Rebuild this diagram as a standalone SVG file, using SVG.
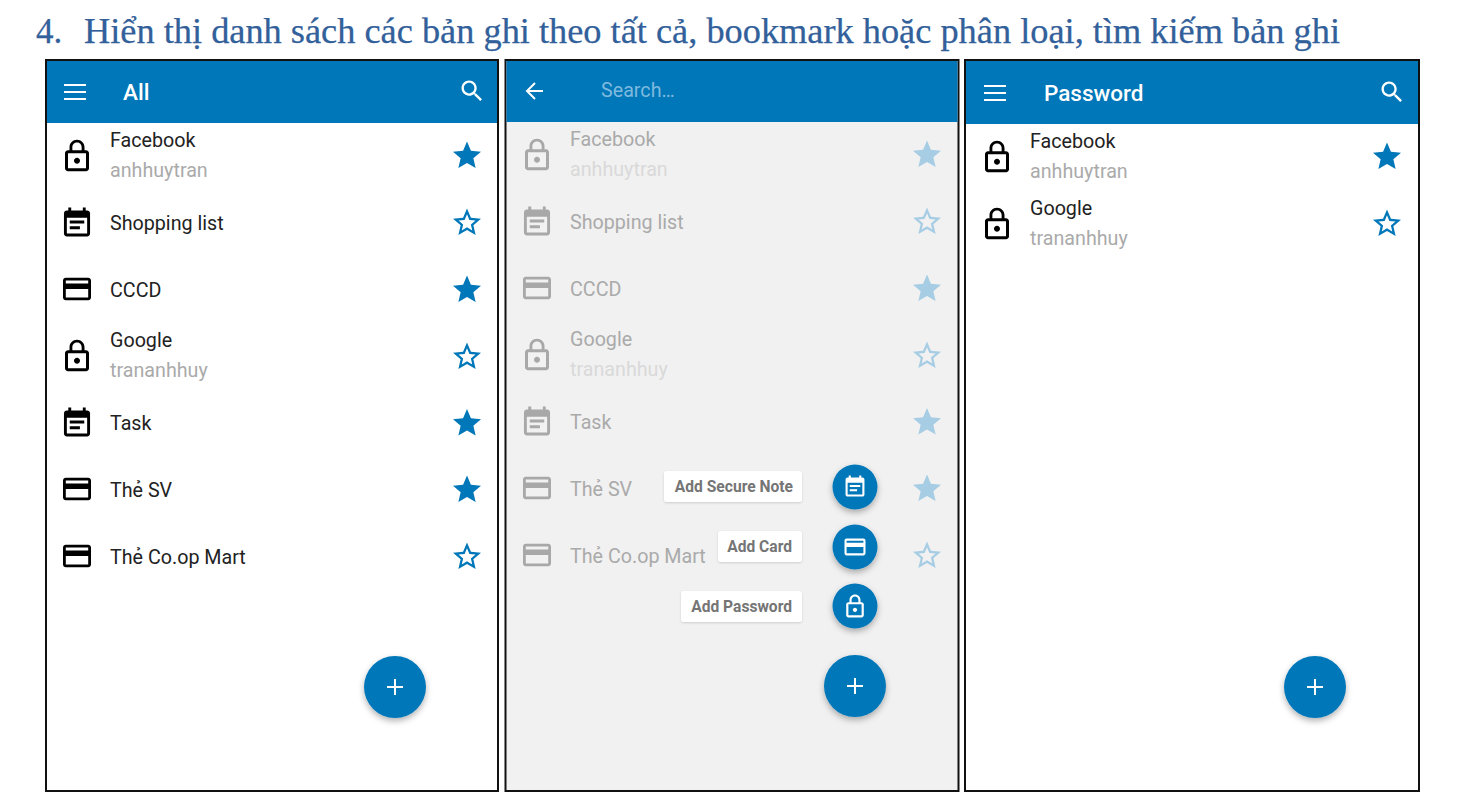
<svg xmlns="http://www.w3.org/2000/svg" width="1471" height="798" viewBox="0 0 1471 798">
<style>
text{font-family:Roboto,"Noto Sans",sans-serif}
.h{font-family:"Liberation Serif","Noto Serif",serif;font-size:35px;fill:#32609a;stroke:#32609a;stroke-width:.25}
.frame{stroke:#111;stroke-width:2}
.bar{fill:#0077b8}
.t{font-size:19.7px;fill:var(--t,#222)}
.s{font-size:19.7px;fill:var(--s,#aaa)}
.ti{font-size:22.5px;font-weight:500;fill:#fff}
.ic{color:var(--i,#000)}
.st{color:var(--st,#0077b8)}
.d{--t:#aaa;--s:#d9d9d9;--i:#a8a8a8;--st:#a7cde4}
.w{color:#fff}
.fab{fill:#0077b8;filter:url(#sh)}
.lab{fill:#fff;filter:url(#sh2)}
.lt{font-size:15.6px;font-weight:700;fill:#757575;text-anchor:end}
</style>
<defs>
<filter id="sh" x="-30%" y="-30%" width="160%" height="170%"><feDropShadow dx="0" dy="3" stdDeviation="3" flood-color="#000" flood-opacity=".3"/></filter>
<filter id="sh2" x="-10%" y="-20%" width="120%" height="150%"><feDropShadow dx="0" dy="1" stdDeviation="1" flood-color="#000" flood-opacity=".15"/></filter>
<path id="lock" fill="currentColor" transform="translate(-12 -11.5)" d="M12 17c1.1 0 2-.9 2-2s-.9-2-2-2-2 .9-2 2 .9 2 2 2zm6-9h-1V6c0-2.76-2.24-5-5-5S7 3.24 7 6v2H6c-1.1 0-2 .9-2 2v10c0 1.1.9 2 2 2h12c1.1 0 2-.9 2-2V10c0-1.1-.9-2-2-2zM8.9 6c0-1.71 1.39-3.1 3.1-3.1s3.1 1.39 3.1 3.1v2H8.9V6zM18 20H6V10h12v10z"/>
<path id="note" fill="currentColor" transform="translate(-12 -11)" d="M17 10H7v2h10v-2zm2-7h-1V1h-2v2H8V1H6v2H5c-1.11 0-1.99.9-1.99 2L3 19c0 1.1.89 2 2 2h14c1.1 0 2-.9 2-2V5c0-1.1-.9-2-2-2zm0 16H5V8h14v11zm-5-5H7v2h7v-2z"/>
<path id="card" fill="currentColor" transform="translate(-12 -12)" d="M20 4H4c-1.11 0-1.99.89-1.99 2L2 18c0 1.11.89 2 2 2h16c1.11 0 2-.89 2-2V6c0-1.11-.89-2-2-2zm0 14H4v-6h16v6zm0-10H4V6h16v2z"/>
<path id="sf" fill="currentColor" transform="translate(-16.8 -16.8) scale(1.4)" d="M12 17.27L18.18 21l-1.64-7.03L22 9.24l-7.19-.61L12 2 9.19 8.63 2 9.24l5.46 4.73L5.82 21z"/>
<path id="so" fill="currentColor" transform="translate(-16.8 -16.8) scale(1.4)" d="M22 9.24l-7.19-.62L12 2 9.19 8.63 2 9.24l5.46 4.73L5.82 21 12 17.27 18.18 21l-1.63-7.03L22 9.24z M12 15.4l-3.76 2.27 1-4.28-3.32-2.88 4.38-.38L12 6.1l1.71 4.04 4.38.38-3.32 2.88 1 4.28L12 15.4z"/>
<path id="menu" fill="#fff" d="M0 0h22v2H0zM0 7h22v2H0zM0 14h22v2H0z"/>
<path id="search" fill="#fff" transform="translate(-14 -14) scale(1.17)" d="M15.5 14h-.79l-.28-.27C15.41 12.59 16 11.11 16 9.5 16 5.91 13.09 3 9.5 3S3 5.91 3 9.5 5.91 16 9.5 16c1.61 0 3.09-.59 4.23-1.57l.27.28v.79l5 4.99L20.49 19l-4.99-5zm-6 0C7.01 14 5 11.99 5 9.5S7.01 5 9.5 5 14 7.01 14 9.5 11.99 14 9.5 14z"/>
<path id="plus" fill="#fff" d="M-8-1H-1V-8H1V-1H8V1H1V8H-1V1H-8z"/>
<g id="list">
<use href="#lock" class="ic" transform="translate(77 155.5) scale(1.5)"/><text class="t" x="110" y="147">Facebook</text><text class="s" x="110" y="177">anhhuytran</text><use href="#sf" class="st" transform="translate(467 155.5)"/>
<use href="#note" class="ic" transform="translate(77 222) scale(1.45)"/><text class="t" x="110" y="230">Shopping list</text><use href="#so" class="st" transform="translate(467 222.5)"/>
<use href="#card" class="ic" transform="translate(77 289) scale(1.4)"/><text class="t" x="110" y="297">CCCD</text><use href="#sf" class="st" transform="translate(467 289.5)"/>
<use href="#lock" class="ic" transform="translate(77 355.5) scale(1.5)"/><text class="t" x="110" y="347">Google</text><text class="s" x="110" y="377">trananhhuy</text><use href="#so" class="st" transform="translate(467 356.5)"/>
<use href="#note" class="ic" transform="translate(77 422) scale(1.45)"/><text class="t" x="110" y="430">Task</text><use href="#sf" class="st" transform="translate(467 423)"/>
<use href="#card" class="ic" transform="translate(77 489) scale(1.4)"/><text class="t" x="110" y="497">Thẻ SV</text><use href="#sf" class="st" transform="translate(467 489.5)"/>
<use href="#card" class="ic" transform="translate(77 556) scale(1.4)"/><text class="t" x="110" y="564">Thẻ Co.op Mart</text><use href="#so" class="st" transform="translate(467 556.5)"/>
</g>
</defs>
<rect width="1471" height="798" fill="#fff"/>
<text id="heading" class="h" x="36" y="43">4.</text>
<text class="h" x="84" y="43" textLength="1256" lengthAdjust="spacingAndGlyphs">Hiển thị danh sách các bản ghi theo tất cả, bookmark hoặc phân loại, tìm kiếm bản ghi</text>

<g id="screen-all">
<rect class="frame" x="46" y="60" width="452" height="731" fill="#fff"/>
<rect class="bar" x="47" y="61" width="450" height="62"/>
<use href="#menu" transform="translate(64 84)"/>
<text class="ti" x="123" y="100">All</text>
<use href="#search" transform="translate(472 91)"/>
<use href="#list"/>
<circle class="fab" cx="395" cy="687" r="31"/><use href="#plus" transform="translate(395 687)"/>
</g>

<g id="screen-search" class="d">
<rect class="frame" x="505.5" y="60" width="453" height="731" fill="#f1f1f1"/>
<rect class="bar" x="506.5" y="61" width="451" height="61"/>
<path d="M543 91H527M535 83l-8 8 8 8" fill="none" stroke="#fff" stroke-width="2"/>
<text x="601" y="97" font-size="19.7" fill="#7fbade">Search…</text>
<use href="#list" transform="translate(460 -1)"/>
<g id="add-note"><rect class="lab" x="664" y="471" width="138" height="31" rx="3"/><text class="lt" x="793" y="492">Add Secure Note</text><circle class="fab" cx="855" cy="487" r="22.5"/><use href="#note" class="w" transform="translate(855 486) scale(1.05)"/></g>
<g id="add-card"><rect class="lab" x="718" y="531" width="84" height="31" rx="3"/><text class="lt" x="792" y="552">Add Card</text><circle class="fab" cx="855" cy="547" r="22.5"/><use href="#card" class="w" transform="translate(855 547) scale(1.05)"/></g>
<g id="add-password"><rect class="lab" x="681" y="591" width="121" height="31" rx="3"/><text class="lt" x="792" y="612">Add Password</text><circle class="fab" cx="855" cy="606" r="22.5"/><use href="#lock" class="w" transform="translate(855 606) scale(1.1)"/></g>
<circle class="fab" cx="855" cy="686" r="31"/><use href="#plus" transform="translate(855 686)"/>
</g>

<g id="screen-password">
<rect class="frame" x="965" y="60" width="454" height="731" fill="#fff"/>
<rect class="bar" x="966" y="61" width="452" height="63"/>
<use href="#menu" transform="translate(984 85)"/>
<text class="ti" x="1044" y="101">Password</text>
<use href="#search" transform="translate(1392 92)"/>
<g id="row-facebook"><use href="#lock" class="ic" transform="translate(997 156.5) scale(1.5)"/><text class="t" x="1030" y="148">Facebook</text><text class="s" x="1030" y="178">anhhuytran</text><use href="#sf" class="st" transform="translate(1387 156.5)"/></g>
<g id="row-google"><use href="#lock" class="ic" transform="translate(997 223.5) scale(1.5)"/><text class="t" x="1030" y="215">Google</text><text class="s" x="1030" y="245">trananhhuy</text><use href="#so" class="st" transform="translate(1387 223.5)"/></g>
<circle class="fab" cx="1315" cy="687" r="31"/><use href="#plus" transform="translate(1315 687)"/>
</g>
<g id="connectors"/>
</svg>
